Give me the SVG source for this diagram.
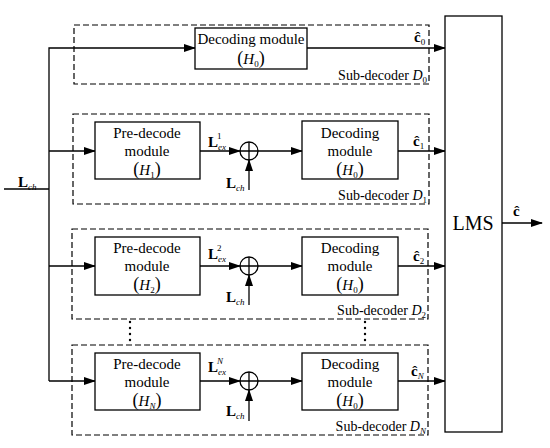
<svg xmlns="http://www.w3.org/2000/svg" width="550" height="448" viewBox="0 0 550 448">
<style>
text{font-family:"Liberation Serif","Times New Roman",serif;fill:#000}
.t{font-size:15px;text-anchor:middle}
.sub{font-size:14px;text-anchor:end}
.dash{fill:none;stroke:#000;stroke-width:1.2;stroke-dasharray:6,3}
.box{fill:#fff;stroke:#000;stroke-width:1.3}
.ln{fill:none;stroke:#000;stroke-width:1.3}
.b{font-weight:bold}
.i{font-style:italic}
</style>
<defs>
<marker id="ar" markerWidth="12" markerHeight="8" refX="11" refY="4" orient="auto" markerUnits="userSpaceOnUse">
<path d="M0,0 L12,4 L0,8 Z" fill="#000"/>
</marker>
</defs>

<g id="connectors">
<path class="ln" d="M49,381 V48 H195" marker-end="url(#ar)"/>
<path class="ln" d="M4,189 H49"/>
<path class="ln" d="M49,151 H95" marker-end="url(#ar)"/>
<path class="ln" d="M49,266 H95" marker-end="url(#ar)"/>
<path class="ln" d="M49,381 H95" marker-end="url(#ar)"/>
<path class="ln" d="M307,48 H445" marker-end="url(#ar)"/>
<path class="ln" d="M200,151 H240" marker-end="url(#ar)"/>
<path class="ln" d="M258,151 H302" marker-end="url(#ar)"/>
<path class="ln" d="M249,190 V160" marker-end="url(#ar)"/>
<path class="ln" d="M398,151 H445" marker-end="url(#ar)"/>
<path class="ln" d="M200,266 H240" marker-end="url(#ar)"/>
<path class="ln" d="M258,266 H302" marker-end="url(#ar)"/>
<path class="ln" d="M249,305 V275" marker-end="url(#ar)"/>
<path class="ln" d="M398,266 H445" marker-end="url(#ar)"/>
<path class="ln" d="M200,381 H240" marker-end="url(#ar)"/>
<path class="ln" d="M258,381 H302" marker-end="url(#ar)"/>
<path class="ln" d="M249,421 V390" marker-end="url(#ar)"/>
<path class="ln" d="M398,381 H445" marker-end="url(#ar)"/>
<path class="ln" d="M502,223 H542" marker-end="url(#ar)"/>
</g>

<g id="sub-decoder-D0">
<rect class="dash" x="74" y="25" width="355" height="59"/>
<text class="sub" x="427" y="80">Sub-decoder <tspan class="i">D</tspan><tspan font-size="9" dy="3">0</tspan></text>
</g>
<g id="sub-decoder-D1">
<rect class="dash" x="73" y="114" width="356" height="90"/>
<text class="sub" x="427" y="200">Sub-decoder <tspan class="i">D</tspan><tspan font-size="9" dy="3">1</tspan></text>
</g>
<g id="sub-decoder-D2">
<rect class="dash" x="72" y="229" width="356" height="90"/>
<text class="sub" x="426" y="315">Sub-decoder <tspan class="i">D</tspan><tspan font-size="9" dy="3">2</tspan></text>
</g>
<g id="sub-decoder-DN">
<rect class="dash" x="72" y="345" width="356" height="90"/>
<text class="sub" x="426" y="431">Sub-decoder <tspan class="i">D</tspan><tspan font-size="9" dy="3" class="i">N</tspan></text>
</g>

<g id="decoding-D0">
<rect class="box" x="195" y="28" width="112" height="41"/>
<text class="t" x="251" y="44">Decoding module</text>
<text class="t" x="251" y="64"><tspan font-size="18">(</tspan><tspan class="i">H</tspan><tspan font-size="9" dy="3">0</tspan><tspan font-size="18" dy="-3">)</tspan></text>
</g>

<g id="predecode-H1">
<rect class="box" x="95" y="122" width="105" height="57"/>
<text class="t" x="147" y="138">Pre-decode</text>
<text class="t" x="147" y="156">module</text>
<text class="t" x="147" y="175"><tspan font-size="18">(</tspan><tspan class="i">H</tspan><tspan font-size="9" dy="3">1</tspan><tspan font-size="18" dy="-3">)</tspan></text>
</g>
<g id="adder-1"><circle class="ln" cx="249" cy="151" r="9" fill="#fff"/><path class="ln" d="M240,151 H258 M249,142 V160"/></g>
<g id="decoding-D1">
<rect class="box" x="302" y="121" width="96" height="58"/>
<text class="t" x="350" y="138">Decoding</text>
<text class="t" x="350" y="156">module</text>
<text class="t" x="350" y="175"><tspan font-size="18">(</tspan><tspan class="i">H</tspan><tspan font-size="9" dy="3">0</tspan><tspan font-size="18" dy="-3">)</tspan></text>
</g>

<g id="predecode-H2">
<rect class="box" x="95" y="237" width="105" height="58"/>
<text class="t" x="147" y="253">Pre-decode</text>
<text class="t" x="147" y="271">module</text>
<text class="t" x="147" y="290"><tspan font-size="18">(</tspan><tspan class="i">H</tspan><tspan font-size="9" dy="3">2</tspan><tspan font-size="18" dy="-3">)</tspan></text>
</g>
<g id="adder-2"><circle class="ln" cx="249" cy="266" r="9" fill="#fff"/><path class="ln" d="M240,266 H258 M249,257 V275"/></g>
<g id="decoding-D2">
<rect class="box" x="302" y="237" width="96" height="58"/>
<text class="t" x="350" y="253">Decoding</text>
<text class="t" x="350" y="271">module</text>
<text class="t" x="350" y="290"><tspan font-size="18">(</tspan><tspan class="i">H</tspan><tspan font-size="9" dy="3">0</tspan><tspan font-size="18" dy="-3">)</tspan></text>
</g>

<g id="predecode-HN">
<rect class="box" x="95" y="353" width="105" height="57"/>
<text class="t" x="147" y="369">Pre-decode</text>
<text class="t" x="147" y="387">module</text>
<text class="t" x="147" y="406"><tspan font-size="18">(</tspan><tspan class="i">H</tspan><tspan font-size="9" dy="3" class="i">N</tspan><tspan font-size="18" dy="-3">)</tspan></text>
</g>
<g id="adder-N"><circle class="ln" cx="249" cy="381" r="9" fill="#fff"/><path class="ln" d="M240,381 H258 M249,372 V390"/></g>
<g id="decoding-DN">
<rect class="box" x="302" y="353" width="96" height="57"/>
<text class="t" x="350" y="369">Decoding</text>
<text class="t" x="350" y="387">module</text>
<text class="t" x="350" y="406"><tspan font-size="18">(</tspan><tspan class="i">H</tspan><tspan font-size="9" dy="3">0</tspan><tspan font-size="18" dy="-3">)</tspan></text>
</g>

<g id="LMS">
<rect class="box" x="445" y="16" width="57" height="416"/>
<text x="473" y="230" font-size="20" text-anchor="middle">LMS</text>
</g>

<g id="labels">
<text x="18" y="187" font-size="15"><tspan class="b">L</tspan><tspan class="i" font-size="9" dy="3">ch</tspan></text>
<text x="208" y="147" font-size="15"><tspan class="b">L</tspan><tspan class="i" font-size="9" dy="3">ex</tspan><tspan font-size="9" dx="-9" dy="-11">1</tspan></text>
<text x="208" y="259" font-size="15"><tspan class="b">L</tspan><tspan class="i" font-size="9" dy="3">ex</tspan><tspan font-size="9" dx="-9" dy="-11">2</tspan></text>
<text x="208" y="372" font-size="15"><tspan class="b">L</tspan><tspan class="i" font-size="9" dy="3">ex</tspan><tspan class="i" font-size="9" dx="-9" dy="-11">N</tspan></text>
<text x="226" y="188" font-size="15"><tspan class="b">L</tspan><tspan class="i" font-size="9" dy="3">ch</tspan></text>
<text x="226" y="302" font-size="15"><tspan class="b">L</tspan><tspan class="i" font-size="9" dy="3">ch</tspan></text>
<text x="226" y="416" font-size="15"><tspan class="b">L</tspan><tspan class="i" font-size="9" dy="3">ch</tspan></text>
<text x="414" y="42" font-size="15"><tspan class="b">ĉ</tspan><tspan font-size="9" dy="3">0</tspan></text>
<text x="413" y="146" font-size="15"><tspan class="b">ĉ</tspan><tspan font-size="9" dy="3">1</tspan></text>
<text x="413" y="261" font-size="15"><tspan class="b">ĉ</tspan><tspan font-size="9" dy="3">2</tspan></text>
<text x="411" y="376" font-size="15"><tspan class="b">ĉ</tspan><tspan class="i" font-size="9" dy="3">N</tspan></text>
<text x="513" y="216" font-size="15" class="b">ĉ</text>
</g>

<g id="dots" fill="#000">
<circle cx="130" cy="322" r="1.2"/><circle cx="130" cy="328" r="1.2"/><circle cx="130" cy="334" r="1.2"/><circle cx="130" cy="340" r="1.2"/>
<circle cx="365" cy="322" r="1.2"/><circle cx="365" cy="328" r="1.2"/><circle cx="365" cy="334" r="1.2"/><circle cx="365" cy="340" r="1.2"/>
</g>
</svg>
